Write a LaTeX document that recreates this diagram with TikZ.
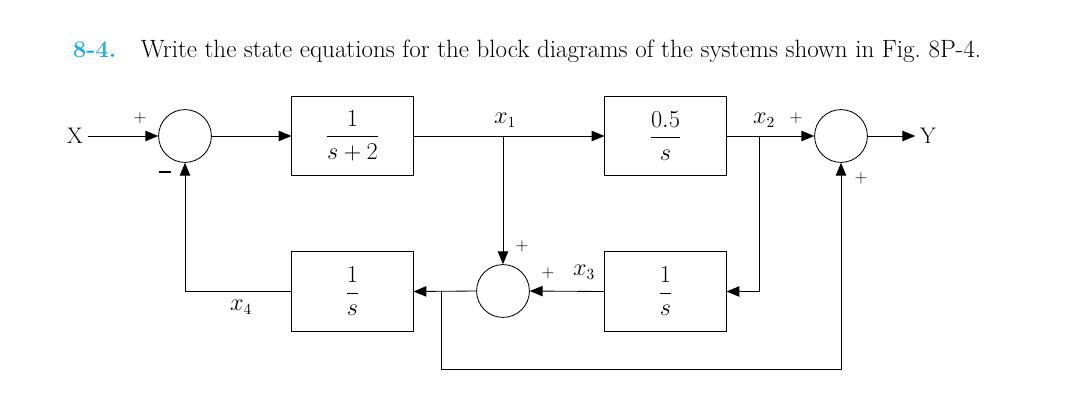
\documentclass[tikz,border=0pt]{standalone}
\usepackage{amsmath}
\usetikzlibrary{arrows.meta, positioning, calc}
\definecolor{numcolor}{RGB}{41, 171, 226}

\begin{document}
\begin{tikzpicture}[
    x=0.025cm, y=-0.025cm,
    >={Triangle[length=3.2mm, width=2.6mm]},
    block/.style={rectangle, draw, line width=0.6pt, minimum width=3.03cm, minimum height=1.98cm, inner sep=0pt, font=\fontsize{17}{19}\selectfont},
    sum/.style={circle, draw, line width=0.6pt, minimum size=1.32cm, inner sep=0pt},
    arrow/.style={->, line width=0.6pt},
    sig/.style={font=\fontsize{16}{18}\selectfont},
    sign/.style={font=\fontsize{13}{14}\selectfont}
]
\useasboundingbox (0,0) rectangle (1070,403);

% ========== TITLE ==========
\node[anchor=base west, font=\fontsize{17}{20}\selectfont\bfseries, text=numcolor] (num) at (68,57) {8-4.};
\node[anchor=base west, font=\fontsize{17.8}{20}\selectfont] (title) at (136,57) {Write the state equations for the block diagrams of the systems shown in Fig.~8P-4.};

% ========== SUMMING JUNCTIONS ==========
\node[sum] (s1) at (185,136) {};
\node[sum] (s2) at (841,136) {};
\node[sum] (s3) at (503,291) {};

% ========== BLOCKS ==========
\node[block] (g1) at (352.5,136) {$\dfrac{1}{s+2}$};
\node[block] (g2) at (665.5,136) {$\dfrac{0.5}{s}$};
\node[block] (g3) at (352.5,291.5) {$\dfrac{1}{s}$};
\node[block] (g4) at (665.5,291.5) {$\dfrac{1}{s}$};

% ========== INPUT / OUTPUT ==========
\node[sig] (in) at (75,136) {X};
\node[sig] (out) at (928,136) {Y};

% ========== BRANCH POINTS ==========
\coordinate (b1) at (g1.east -| s3.north);
\coordinate (b2) at ($(g2.east)!0.38!(s2.west)$);
\coordinate (b3) at (441,291);
\coordinate (b4) at (441,369);

% ========== ARROWS ==========
\draw[arrow] (in.east) -- (s1.west);
\draw[arrow] (s1.east) -- (g1.west);
\draw[arrow] (g1.east) -- (g2.west);
\draw[arrow] (b1) -- (s3.north);
\draw[arrow] (g2.east) -- (s2.west);
\draw[arrow] (s2.east) -- (out.west);
\draw[arrow] (b2) |- (g4.east);
\draw[arrow] (g4.west) -- (s3.east);
\draw[arrow] (s3.west) -- (g3.east);
\draw[arrow] (g3.west) -| (s1.south);
\draw[arrow] (b3) -- (b4) -| (s2.south);

% ========== LABELS ==========
\node[sig] at (505,120) {$x_1$};
\node[sig] at (764,120) {$x_2$};
\node[sig] at (584,272) {$x_3$};
\node[sig] at (241,307) {$x_4$};
\node[sign] at (140,118) {$+$};
\node[fill, minimum width=0.3cm, minimum height=1.6pt, inner sep=0pt] at (165,172) {};
\node[sign] at (796,118) {$+$};
\node[sign] at (861,178) {$+$};
\node[sign] at (522,246) {$+$};
\node[sign] at (548,273) {$+$};
\end{tikzpicture}
\end{document}
